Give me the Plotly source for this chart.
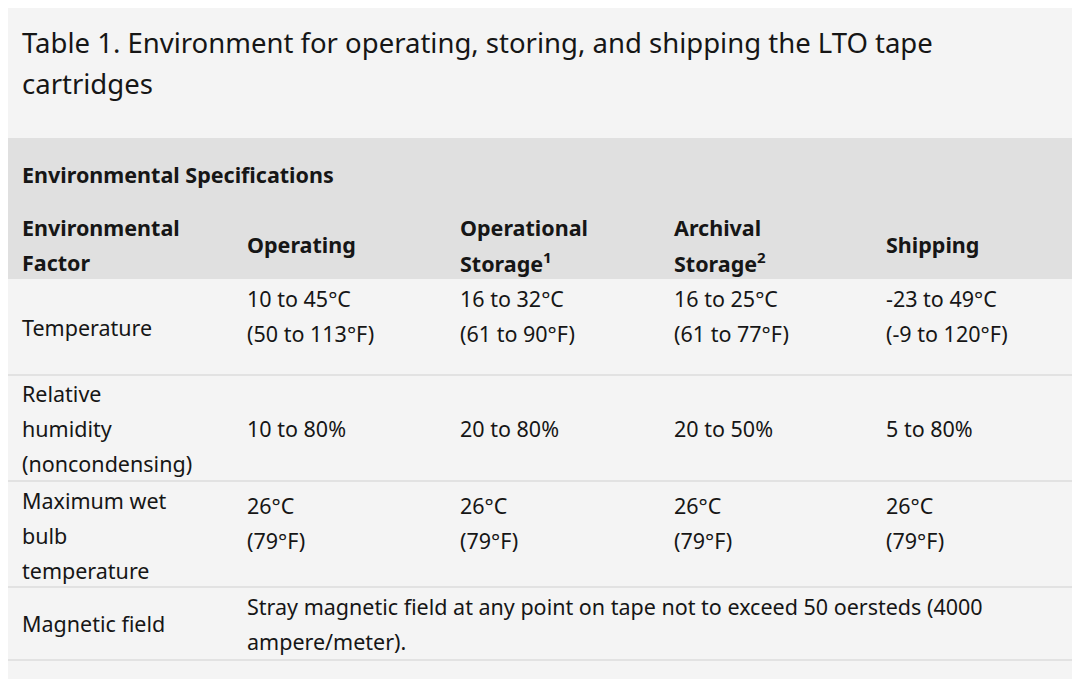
import plotly.graph_objects as go

title = "Table 1. Environment for operating, storing, and shipping the LTO tape<br>cartridges"
group_header = "Environmental Specifications"
columns = ["Environmental<br>Factor", "Operating", "Operational<br>Storage<sup>1</sup>",
           "Archival<br>Storage<sup>2</sup>", "Shipping"]
factors = ["Temperature", "Relative<br>humidity<br>(noncondensing)",
           "Maximum wet<br>bulb<br>temperature", "Magnetic field"]
operating = ["10 to 45°C<br>(50 to 113°F)", "10 to 80%", "26°C<br>(79°F)", None]
op_storage = ["16 to 32°C<br>(61 to 90°F)", "20 to 80%", "26°C<br>(79°F)", None]
arch_storage = ["16 to 25°C<br>(61 to 77°F)", "20 to 50%", "26°C<br>(79°F)", None]
shipping = ["-23 to 49°C<br>(-9 to 120°F)", "5 to 80%", "26°C<br>(79°F)", None]
magnetic_note = "Stray magnetic field at any point on tape not to exceed 50 oersteds (4000<br>ampere/meter)."

W, H = 1080, 679
OFF = 8  # page body margin
col_x = [20, 245, 458, 672, 884]
LH = 35
FONT = "Noto Sans"
TXT = "#161616"

fig = go.Figure()
ann = []
shapes = []

def add_lines(text, x, y_center, bold=False, size=21.5):
    lines = text.split("<br>")
    n = len(lines)
    for i, ln in enumerate(lines):
        y = y_center + (i - (n - 1) / 2) * LH
        ann.append(dict(x=x - OFF, y=y - OFF, xref="x", yref="y",
                        text=f"<b>{ln}</b>" if bold else ln,
                        showarrow=False, xanchor="left", yanchor="middle",
                        font=dict(family=FONT, size=size, color=TXT)))

tl = title.split("<br>")
for i, ln in enumerate(tl):
    ann.append(dict(x=20 - OFF, y=42 + i * 41 - OFF, xref="x", yref="y", text=ln, showarrow=False,
                    xanchor="left", yanchor="middle", font=dict(family=FONT, size=27.5, color=TXT)))

shapes.append(dict(type="rect", xref="x", yref="y", x0=-OFF, x1=W, y0=138 - OFF, y1=279 - OFF,
                   fillcolor="#e0e0e0", line_width=0, layer="below"))
add_lines(group_header, 20, 174, bold=True)
for cx, c in zip(col_x, columns):
    add_lines(c, cx, 244.5, bold=True)

for y0 in [375, 481, 587, 660]:
    shapes.append(dict(type="line", xref="x", yref="y", x0=-OFF, x1=W, y0=y0 - OFF, y1=y0 - OFF,
                       line=dict(color="#dcdcdc", width=1.5)))

value_centers = [315.5, 428, 522.5, 623.5]
label_centers = [327, 428, 535, 623]
for r, f in enumerate(factors):
    add_lines(f, 20, label_centers[r])
    vals = [operating[r], op_storage[r], arch_storage[r], shipping[r]]
    for cx, v in zip(col_x[1:], vals):
        if v is not None:
            add_lines(v, cx, value_centers[r])
add_lines(magnetic_note, 245, 623.5)

fig.update_layout(width=W, height=H, margin=dict(l=0, r=0, t=0, b=0),
                  paper_bgcolor="#f4f4f4", plot_bgcolor="#f4f4f4",
                  xaxis=dict(range=[0, W], visible=False, fixedrange=True),
                  yaxis=dict(range=[H, 0], visible=False, fixedrange=True),
                  annotations=ann, shapes=shapes, showlegend=False)
fig.write_html("out.html")
